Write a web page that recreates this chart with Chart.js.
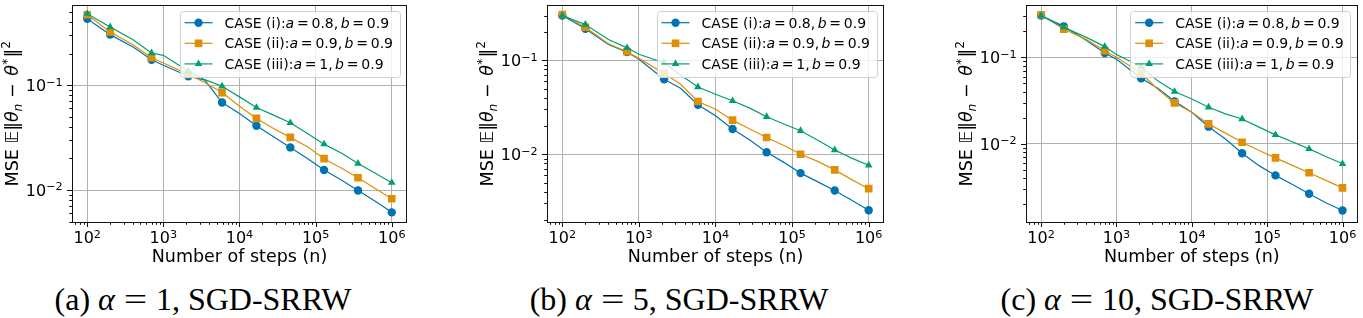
<!DOCTYPE html>
<html>
<head>
<meta charset="utf-8">
<script src="https://cdn.jsdelivr.net/npm/chart.js@4.4.1/dist/chart.umd.min.js"></script>
<style>
body { margin: 0; background: #fff; width: 1363px; height: 318px; overflow: hidden; position: relative; }
.panel { position: absolute; top: 0; }
.cap { position: absolute; top: 283px; font-family: "Liberation Serif", serif; font-size: 32px; line-height: 32px; white-space: nowrap; transform: translateX(-50%); color: #000; }
.cap .eq { display: inline-block; margin: 0 11px 0 12px; transform: scaleX(1.3); }
</style>
</head>
<body>
<div class="panel" id="pa"><canvas id="ca"></canvas></div>
<div class="panel" id="pb"><canvas id="cb"></canvas></div>
<div class="panel" id="pc"><canvas id="cc"></canvas></div>
<div class="cap" style="left:203px">(a) <i>α</i><span class="eq">=</span>1, SGD-SRRW</div>
<div class="cap" style="left:679px">(b) <i>α</i><span class="eq">=</span>5, SGD-SRRW</div>
<div class="cap" style="left:1157px">(c) <i>α</i><span class="eq">=</span>10, SGD-SRRW</div>
<script>
// steps where markers sit, and a few steps in between
var markSteps = [100, 200, 700, 2130, 5900, 16700, 46500, 129000, 360000, 1000000];
var midSteps = [400, 1000, 3500, 10000, 28000, 78000, 220000, 600000];

// alpha = 1
var a1Case1Mark = [0.431, 0.304, 0.175, 0.122, 0.0684, 0.041, 0.0255, 0.0155, 0.0099, 0.00612];
var a1Case1Mid = [0.232, 0.155, 0.112, 0.0537, 0.0322, 0.020, 0.0124, 0.00785];
var a1Case2Mark = [0.471, 0.322, 0.183, 0.127, 0.0851, 0.0482, 0.0318, 0.0199, 0.0131, 0.00826];
var a1Case2Mid = [0.244, 0.163, 0.106, 0.063, 0.0387, 0.0259, 0.0161, 0.0104];
var a1Case3Mark = [0.482, 0.36, 0.203, 0.136, 0.0978, 0.0612, 0.0438, 0.0274, 0.0179, 0.01175];
var a1Case3Mid = [0.272, 0.193, 0.113, 0.0774, 0.0518, 0.0347, 0.0224, 0.0145];

// alpha = 5
var a5Case1Mark = [0.300, 0.217, 0.1225, 0.063, 0.0337, 0.0186, 0.0105, 0.0063, 0.00412, 0.00253];
var a5Case1Mid = [0.148, 0.1026, 0.0505, 0.0257, 0.0142, 0.0082, 0.00505, 0.00324];
var a5Case2Mark = [0.308, 0.225, 0.1236, 0.0723, 0.0365, 0.0231, 0.0151, 0.0100, 0.00682, 0.0043];
var a5Case2Mid = [0.150, 0.105, 0.0557, 0.0302, 0.0186, 0.0124, 0.00835, 0.00537];
var a5Case3Mark = [0.300, 0.241, 0.136, 0.0945, 0.0521, 0.0371, 0.0251, 0.0178, 0.0111, 0.00764];
var a5Case3Mid = [0.167, 0.116, 0.070, 0.0436, 0.031, 0.021, 0.014, 0.0091];

// alpha = 10
var a10Case1Mark = [0.303, 0.228, 0.112, 0.0572, 0.031, 0.0158, 0.0078, 0.00432, 0.00265, 0.0017];
var a10Case1Mid = [0.156, 0.095, 0.0443, 0.0232, 0.0114, 0.0056, 0.00337, 0.00209];
var a10Case2Mark = [0.31, 0.212, 0.119, 0.0654, 0.0297, 0.017, 0.01045, 0.00689, 0.00463, 0.0031];
var a10Case2Mid = [0.16, 0.10, 0.043, 0.0232, 0.0133, 0.00837, 0.0056, 0.00378];
var a10Case3Mark = [0.303, 0.222, 0.133, 0.078, 0.0402, 0.0265, 0.0194, 0.0127, 0.00875, 0.00588];
var a10Case3Mid = [0.17, 0.108, 0.0538, 0.033, 0.0222, 0.0156, 0.0105, 0.00714];

var caseLabels = ['CASE (i):', 'CASE (ii):', 'CASE (iii):'];
var caseA = ['0.8', '0.9', '1'];
var caseB = ['0.9', '0.9', '0.9'];
var caseColors = ['#0173b2', '#de8f05', '#029e73'];
var caseShapes = ['circle', 'rect', 'triangle'];
var caseRadius = [4.2, 5.4, 4.4];

var xRange = [63.1, 1585000];

var SANS = '"DejaVu Sans", sans-serif';

function logTicks(min, max) {
    var out = [];
    for (var e = Math.floor(Math.log10(min)); e <= Math.ceil(Math.log10(max)); e++) {
        for (var m = 1; m < 10; m++) {
            var v = m * Math.pow(10, e);
            if (v >= min && v <= max) out.push({ value: v, major: m === 1 });
        }
    }
    return out;
}

function buildSeries(mark, mid) {
    var pts = markSteps.map(function (s, i) { return { x: s, y: mark[i], m: true }; });
    midSteps.forEach(function (s, i) { pts.push({ x: s, y: mid[i], m: false }); });
    pts.sort(function (p, q) { return p.x - q.x; });
    return pts;
}

// segment = [text, font, dy, gapAfter]
function drawSegments(ctx, segs, x, y) {
    segs.forEach(function (s) {
        ctx.font = s[1];
        ctx.fillText(s[0], x, y + (s[2] || 0));
        x += ctx.measureText(s[0]).width + (s[3] || 0);
    });
}

function segWidth(ctx, segs) {
    var w = 0;
    segs.forEach(function (s) { ctx.font = s[1]; w += ctx.measureText(s[0]).width + (s[3] || 0); });
    return w;
}

// "10" with a raised exponent, like mathtext
function powSegs(e) {
    var txt = e < 0 ? '\u2212' + (-e) : String(e);
    return [['10', '16px ' + SANS, 0], [txt, '11.2px ' + SANS, -5.6]];
}

// frame, tick marks, tick labels, legend and y label drawn like matplotlib
var mplPlugin = {
    id: 'mpl',
    afterDatasetsDraw: function (chart) {
        var ctx = chart.ctx, a = chart.chartArea;
        var xs = chart.scales.x, ys = chart.scales.y;
        ctx.save();
        ctx.strokeStyle = '#111';
        ctx.lineWidth = 1;
        ctx.beginPath();
        xs.ticks.forEach(function (t) {
            var px = Math.round(xs.getPixelForValue(t.value)) + 0.5;
            ctx.moveTo(px, a.bottom);
            ctx.lineTo(px, a.bottom + (t.major ? 5 : 2.8));
        });
        ys.ticks.forEach(function (t) {
            var py = Math.round(ys.getPixelForValue(t.value)) + 0.5;
            ctx.moveTo(a.left, py);
            ctx.lineTo(a.left - (t.major ? 5 : 2.8), py);
        });
        ctx.stroke();
        ctx.strokeRect(Math.round(a.left) + 0.5, Math.round(a.top) + 0.5,
            Math.round(a.right - a.left) - 1, Math.round(a.bottom - a.top));

        // tick labels
        ctx.fillStyle = '#000';
        ctx.textBaseline = 'alphabetic';
        ctx.textAlign = 'left';
        xs.ticks.forEach(function (t) {
            if (!t.major) return;
            var segs = powSegs(Math.round(Math.log10(t.value)));
            var w = segWidth(ctx, segs);
            drawSegments(ctx, segs, xs.getPixelForValue(t.value) - w / 2, a.bottom + 21.3);
        });
        ys.ticks.forEach(function (t) {
            if (!t.major) return;
            var segs = powSegs(Math.round(Math.log10(t.value)));
            var w = segWidth(ctx, segs);
            drawSegments(ctx, segs, a.left - 9.3 - w, ys.getPixelForValue(t.value) + 6);
        });

        // legend
        var fs = 14;
        var reg = fs + 'px ' + SANS, ital = 'italic ' + reg;
        var rows = caseLabels.map(function (lab, i) {
            return [[lab, reg], ['a', ital, 0, 2.8], ['=', reg, 0, 2.8], [caseA[i] + ',', reg, 0, 2.4],
                ['b', ital, 0, 2.8], ['=', reg, 0, 2.8], [caseB[i], reg]];
        });
        var maxW = 0;
        rows.forEach(function (r) { maxW = Math.max(maxW, segWidth(ctx, r)); });
        var bw = 45 + maxW + 7, bh = 66;
        var bx = a.right - 7 - bw, by = a.top + 6;
        ctx.beginPath();
        ctx.roundRect(Math.round(bx) + 0.5, Math.round(by) + 0.5, Math.round(bw), bh, 3);
        ctx.fillStyle = 'rgba(255,255,255,0.8)';
        ctx.fill();
        ctx.strokeStyle = '#d0d0d0';
        ctx.stroke();
        rows.forEach(function (r, i) {
            var ry = by + 11.3 + i * 20.6;
            ctx.strokeStyle = caseColors[i];
            ctx.lineWidth = 1.2;
            ctx.beginPath();
            ctx.moveTo(bx + 5, ry);
            ctx.lineTo(bx + 33, ry);
            ctx.stroke();
            ctx.fillStyle = caseColors[i];
            Chart.helpers.drawPoint(ctx, { pointStyle: caseShapes[i], radius: caseRadius[i], rotation: 0, borderWidth: 0 }, bx + 19, ry);
            ctx.fillStyle = '#000';
            drawSegments(ctx, r, bx + 45, ry + 5.1);
        });

        // y axis label
        var yf = 17.5;
        var yreg = yf + 'px ' + SANS, yit = 'italic ' + yreg;
        var ysm = (yf * 0.7) + 'px ' + SANS, ysmi = 'italic ' + ysm;
        var segs = [['MSE ', yreg], ['\ud835\udd3c', yreg], ['\u2016', yreg], ['\u03b8', yit], ['n', ysmi, 4, 0],
            [' \u2212 ', yreg, 0, 2], ['\u03b8', yit, 0, 0.5], ['*', ysm, -7, 1], ['\u2016', yreg], ['2', ysm, -8]];
        var tw = segWidth(ctx, segs);
        ctx.translate(a.left - 60, (a.top + a.bottom) / 2);
        ctx.rotate(-Math.PI / 2);
        ctx.fillStyle = '#000';
        drawSegments(ctx, segs, -tw / 2, 6.3);
        ctx.restore();
    }
};

function makeChart(canvasId, divId, box, yRange, series) {
    var padR = box.padR;
    var left = box.left - 80;
    var width = box.right + padR - left;
    var height = 275;
    var div = document.getElementById(divId);
    div.style.left = left + 'px';
    div.style.width = width + 'px';
    div.style.height = height + 'px';
    var cv = document.getElementById(canvasId);
    cv.width = width;
    cv.height = height;

    var datasets = series.map(function (s, i) {
        return {
            label: caseLabels[i],
            data: buildSeries(s[0], s[1]),
            borderColor: caseColors[i],
            backgroundColor: caseColors[i],
            borderWidth: 1.2,
            pointStyle: caseShapes[i],
            pointRadius: function (c) { return c.raw && c.raw.m ? caseRadius[i] : 0; },
            pointBorderWidth: 0,
            pointBackgroundColor: caseColors[i],
            tension: 0,
            order: 2 - i
        };
    });

    return new Chart(cv.getContext('2d'), {
        type: 'line',
        data: { datasets: datasets },
        plugins: [mplPlugin],
        options: {
            responsive: false,
            animation: false,
            events: [],
            layout: { padding: { left: 0, top: box.top, right: padR, bottom: 0 } },
            plugins: { legend: { display: false }, tooltip: { enabled: false } },
            scales: {
                x: {
                    type: 'logarithmic',
                    min: xRange[0],
                    max: xRange[1],
                    afterBuildTicks: function (s) { s.ticks = logTicks(xRange[0], xRange[1]); },
                    afterFit: function (s) { s.height = height - box.bottom; },
                    ticks: { display: false, autoSkip: false, maxRotation: 0 },
                    grid: {
                        drawTicks: false,
                        lineWidth: 1,
                        color: function (c) { return c.tick && c.tick.major ? '#b0b0b0' : 'rgba(0,0,0,0)'; }
                    },
                    border: { display: false },
                    title: {
                        display: true,
                        text: 'Number of steps (n)',
                        color: '#000',
                        font: { family: SANS, size: 17.5 },
                        padding: { top: 0, bottom: 7.5 }
                    }
                },
                y: {
                    type: 'logarithmic',
                    min: yRange[0],
                    max: yRange[1],
                    afterBuildTicks: function (s) { s.ticks = logTicks(yRange[0], yRange[1]); },
                    afterFit: function (s) { s.width = 80; },
                    ticks: { display: false, autoSkip: false },
                    grid: {
                        drawTicks: false,
                        lineWidth: 1,
                        color: function (c) { return c.tick && c.tick.major ? '#b0b0b0' : 'rgba(0,0,0,0)'; }
                    },
                    border: { display: false }
                }
            }
        }
    });
}

makeChart('ca', 'pa', { left: 72, right: 407, top: 5, bottom: 222, padR: 13 }, [0.00495, 0.578],
    [[a1Case1Mark, a1Case1Mid], [a1Case2Mark, a1Case2Mid], [a1Case3Mark, a1Case3Mid]]);
makeChart('cb', 'pb', { left: 547, right: 884, top: 4, bottom: 222, padR: 13 }, [0.0019, 0.385],
    [[a5Case1Mark, a5Case1Mid], [a5Case2Mark, a5Case2Mid], [a5Case3Mark, a5Case3Mid]]);
makeChart('cc', 'pc', { left: 1026, right: 1362, top: 5, bottom: 222, padR: 1 }, [0.00125, 0.398],
    [[a10Case1Mark, a10Case1Mid], [a10Case2Mark, a10Case2Mid], [a10Case3Mark, a10Case3Mid]]);
</script>
</body>
</html>
